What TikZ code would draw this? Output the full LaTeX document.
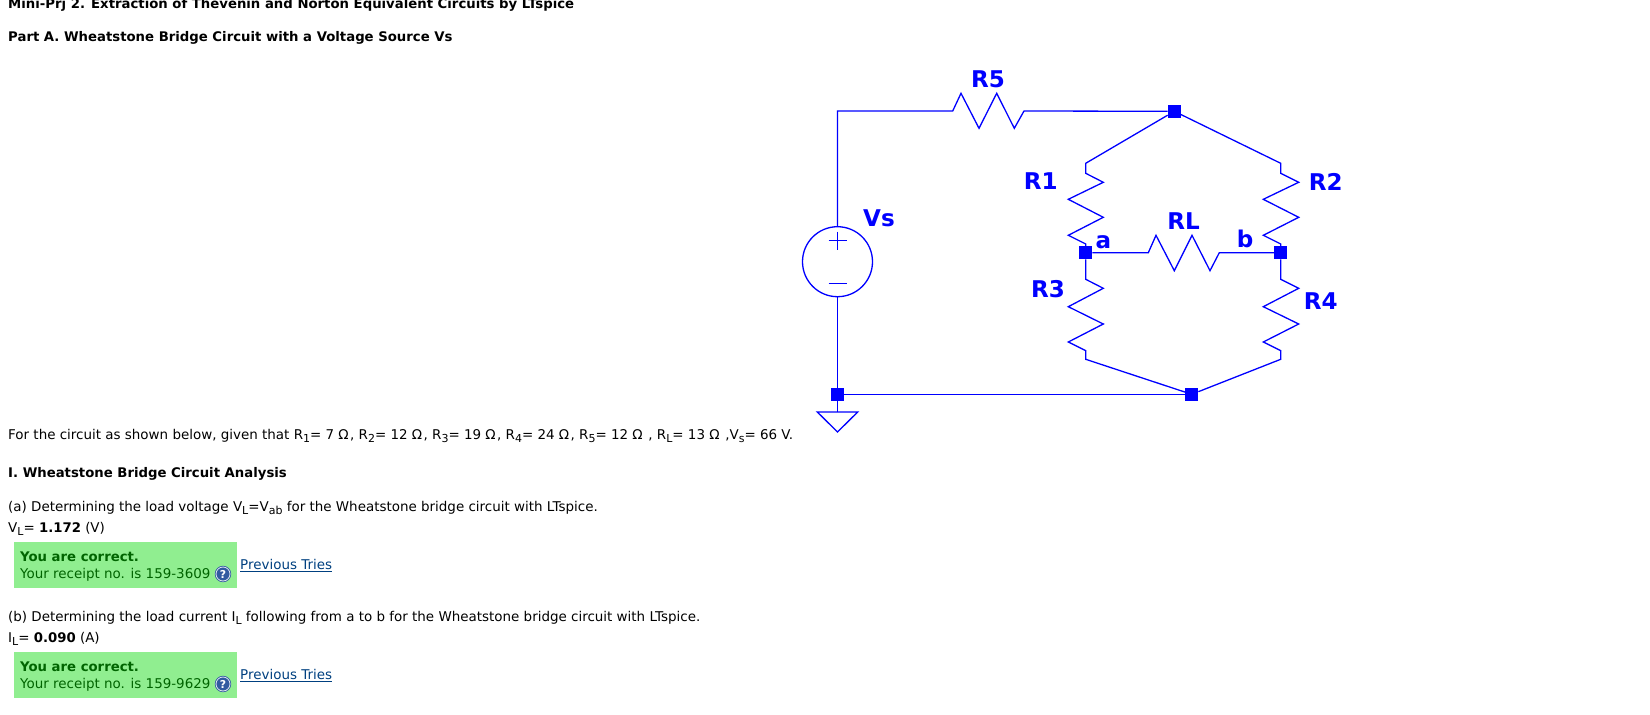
\documentclass[tikz,border=0pt]{standalone}
\usepackage{fontspec}
\setmainfont{DejaVu Sans}[BoldFeatures={Scale=0.985}]
\usetikzlibrary{positioning}
\definecolor{wireblue}{RGB}{0,0,255}
\definecolor{okgreen}{RGB}{144,238,144}
\definecolor{okdark}{RGB}{0,100,0}
\definecolor{linkblue}{RGB}{0,64,128}
\definecolor{helpblue}{RGB}{50,90,160}
\newcommand{\lowtext}[1]{\raisebox{-3.5pt}{\fontsize{11}{11}\selectfont #1}}
\newcommand{\ohmsign}{Ω\kern1.4pt}
\tikzset{
  wire/.style={draw=wireblue,line width=1.3pt,line join=miter},
  junction/.style={rectangle,fill=wireblue,minimum size=13pt,inner sep=0pt},
  partlabel/.style={text=wireblue,font=\fontsize{23.4}{23.4}\selectfont\bfseries,inner sep=0pt},
  txt/.style={anchor=base west,inner sep=0pt,font=\fontsize{13.45}{16}\selectfont},
  okbox/.style={rectangle,fill=okgreen,minimum width=223pt,minimum height=46pt,inner sep=0pt,anchor=north west},
  helpmark/.style={circle,fill=helpblue,draw=helpblue,double=white!85!helpblue,double distance=0.8pt,line width=0.8pt,minimum size=14pt,inner sep=0pt,text=white,font=\fontsize{11}{11}\selectfont\bfseries}
}
\begin{document}
\begin{tikzpicture}[x=1pt,y=-1pt]
  \useasboundingbox (0,0) rectangle (1650,715);
  \clip (0,0) rectangle (1650,715);

  % Question text
  \node[txt] (title) at (8,8) {\textbf{Mini-Prj 2. Extraction of Thevenin and Norton Equivalent Circuits by LTspice}};
  \node[txt] (parta) at (8,41) {\textbf{Part A. Wheatstone Bridge Circuit with a Voltage Source Vs}};
  \node[txt] (given) at (8,439) {For the circuit as shown below, given that R\lowtext{1}= 7 \ohmsign, R\lowtext{2}= 12 \ohmsign, R\lowtext{3}= 19 \ohmsign, R\lowtext{4}= 24 \ohmsign, R\lowtext{5}= 12 \ohmsign{} , R\lowtext{L}= 13 \ohmsign{} ,V\lowtext{s}= 66 V.};
  \node[txt] (head) at (8,477) {\textbf{I. Wheatstone Bridge Circuit Analysis}};

  % Part (a)
  \node[txt] (qa) at (8,511) {(a) Determining the load voltage V\lowtext{L}=V\lowtext{ab} for the Wheatstone bridge circuit with LTspice.};
  \node[txt] (ansa) at (8,532) {V\lowtext{L}= \textbf{1.172} (V)};
  \node[okbox] (boxa) at (14,542) {};
  \node[txt,text=okdark] (oka) at (20,561) {\textbf{You are correct.}};
  \node[txt,text=okdark] (reca) at (20,578) {Your receipt no. is 159-3609};
  \node[helpmark] (helpa) at (223,574) {?};
  \node[txt,text=linkblue] (tria) at (240,569.5) {\underline{Previous Tries}};

  % Part (b)
  \node[txt] (qb) at (8,621) {(b) Determining the load current I\lowtext{L} following from a to b for the Wheatstone bridge circuit with LTspice.};
  \node[txt] (ansb) at (8,642) {I\lowtext{L}= \textbf{0.090} (A)};
  \node[okbox] (boxb) at (14,652) {};
  \node[txt,text=okdark] (okb) at (20,671) {\textbf{You are correct.}};
  \node[txt,text=okdark] (recb) at (20,688) {Your receipt no. is 159-9629};
  \node[helpmark] (helpb) at (223,684) {?};
  \node[txt,text=linkblue] (trib) at (240,679.5) {\underline{Previous Tries}};

  % Junctions and source
  \node[junction] (J1) at (1174.3,111.3) {};
  \node[junction] (A) at (1085.7,252.7) {};
  \node[junction] (B) at (1280.7,252.7) {};
  \node[junction] (J2) at (1191.7,394.3) {};
  \node[junction] (J3) at (837.5,394.3) {};
  \node[circle,draw=wireblue,line width=1.3pt,minimum size=70pt,inner sep=0pt] (VS) at (837.5,261.7) {};
  \coordinate (GND) at (837.5,412);

  % Wires with resistors
  \draw[wire] (VS) -- (837.5,111) -- (952.7,111) -- (961,93.3) -- (979,128.3) -- (996.7,93.3) -- (1014.3,128.3) -- (1024,111) -- (J1);
  \draw[wire] (VS) -- (J3);
  \draw[wire] (J3) -- (J2);
  \draw[wire] (J3) -- (GND);
  \draw[wire] (J1) -- (1085.7,163.3) -- (1085.7,173.3) -- (1103.3,182.3) -- (1068.3,199.3) -- (1103.3,217.3) -- (1068.3,235.3) -- (1085.7,244) -- (A);
  \draw[wire] (J1) -- (1280.7,163.3) -- (1280.7,173.3) -- (1298.7,182.3) -- (1263.3,199.3) -- (1298.7,217.3) -- (1263.3,235.3) -- (1280.7,244) -- (B);
  \draw[wire] (A) -- (1085.7,279.3) -- (1103.3,288.3) -- (1068.3,306.7) -- (1103.3,324) -- (1068.3,342) -- (1085.7,350.7) -- (1085.7,359.3) -- (J2);
  \draw[wire] (B) -- (1280.7,279.3) -- (1298.7,288.3) -- (1263.3,306.7) -- (1298.7,324) -- (1263.3,342) -- (1280.7,350.7) -- (1280.7,359.3) -- (J2);
  \draw[wire] (A) -- (1148.3,252.7) -- (1156,235.3) -- (1174.3,270.7) -- (1192,235.3) -- (1210,270.7) -- (1219.3,252.7) -- (B);

  % Source signs and ground
  \draw[wire] (828.5,240.7) -- (846.5,240.7) (837.5,231.7) -- (837.5,249.7);
  \draw[wire] (828.5,283.3) -- (846.5,283.3);
  \draw[wire] (GND) -- (817.3,412) -- (837.5,432) -- (857.7,412) -- cycle;

  % Part labels
  \node[partlabel] (lR5) at (988,79) {R5};
  \node[partlabel] (lR1) at (1040.7,181) {R1};
  \node[partlabel] (lR3) at (1048,289) {R3};
  \node[partlabel] (lR2) at (1325.7,182) {R2};
  \node[partlabel] (lR4) at (1320.7,300.7) {R4};
  \node[partlabel] (lRL) at (1183.7,221) {RL};
  \node[partlabel] (lVs) at (879,218) {Vs};
  \node[partlabel] (la) at (1103.3,242) {a};
  \node[partlabel] (lb) at (1245,239) {b};
\end{tikzpicture}
\end{document}
